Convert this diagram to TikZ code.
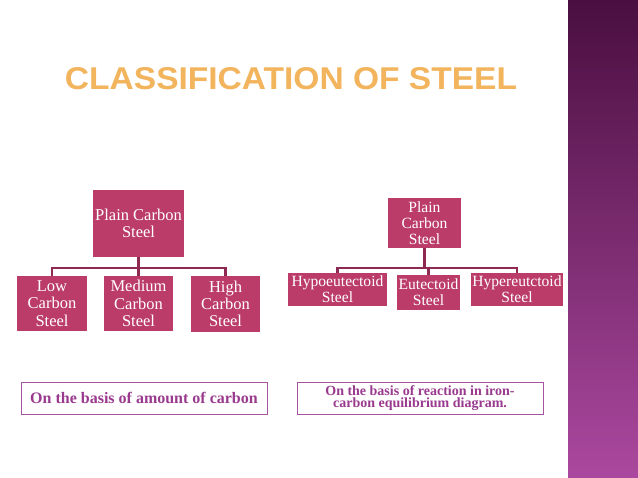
\documentclass[tikz,border=0pt]{standalone}
\usepackage{fontspec}
\setmainfont{Liberation Serif}
\newfontfamily\titlefont{Liberation Sans}
\usetikzlibrary{positioning}
\definecolor{boxfill}{HTML}{BB3C69}
\definecolor{linkcol}{HTML}{8E2A52}
\definecolor{basiscol}{HTML}{9A3A8E}
\definecolor{basisframe}{HTML}{A653A0}
\definecolor{bartop}{HTML}{4A0F40}
\definecolor{barbot}{HTML}{AB489F}
\definecolor{titlecol}{HTML}{F2B45C}
\begin{document}
\begin{tikzpicture}[x=1pt,y=-1pt,
  steelbox/.style={rectangle,fill=boxfill,text=white,align=center,inner sep=0pt,font=\fontsize{16.5}{17.3}\selectfont},
  steelboxr/.style={steelbox,font=\fontsize{15.6}{16.2}\selectfont},
  link/.style={draw=linkcol,line width=2.6pt},
  basisbox/.style={rectangle,draw=basisframe,line width=0.8pt,text=basiscol,align=center,inner sep=0pt,minimum width=246pt,minimum height=32pt}]
\useasboundingbox (0,0) rectangle (638,478);
\fill[white] (0,0) rectangle (638,478);
\shade[top color=bartop,bottom color=barbot] (568,0) rectangle (638,478);
\node (title) at (291,79) {\resizebox{452pt}{22pt}{\color{titlecol}\titlefont\bfseries CLASSIFICATION OF STEEL}};
% left tree
\node[steelbox,minimum width=91pt,minimum height=67pt] (pc1) at (138.5,223.5) {Plain Carbon\\Steel};
\node[steelbox,minimum width=70pt,minimum height=55pt] (low) at (52,303.5) {Low\\Carbon\\Steel};
\node[steelbox,minimum width=69pt,minimum height=55pt] (med) at (138.5,303.5) {Medium\\Carbon\\Steel};
\node[steelbox,minimum width=69pt,minimum height=56pt] (high) at (225.5,304) {High\\Carbon\\Steel};
\coordinate (j1) at (138.5,268);
\draw[link] (pc1.south) -- (j1);
\draw[link] (low.north) |- (j1) -| (high.north);
\draw[link] (j1) -- (med.north);
% right tree
\node[steelboxr,minimum width=73pt,minimum height=50pt] (pc2) at (424.5,223) {Plain\\Carbon\\Steel};
\node[steelboxr,minimum width=99pt,minimum height=33pt] (hypo) at (337.5,289.5) {Hypoeutectoid\\Steel};
\node[steelboxr,minimum width=63pt,minimum height=35pt] (eut) at (428.5,292.5) {Eutectoid\\Steel};
\node[steelboxr,minimum width=92pt,minimum height=33pt] (hyper) at (517,289.5) {Hypereutctoid\\Steel};
\coordinate (j2) at (424.5,268);
\draw[link] (pc2.south) -- (j2);
\draw[link] (hypo.north) |- (j2) -| (hyper.north);
\draw[link] (eut.north) |- (j2);
% basis boxes
\node[basisbox,font=\fontsize{16}{18}\selectfont\bfseries] (b1) at (144,398) {On the basis of amount of carbon};
\node[basisbox,font=\fontsize{14}{12.5}\selectfont\bfseries] (b2) at (420,398) {On the basis of reaction in iron-\\carbon equilibrium diagram.};
\end{tikzpicture}
\end{document}
